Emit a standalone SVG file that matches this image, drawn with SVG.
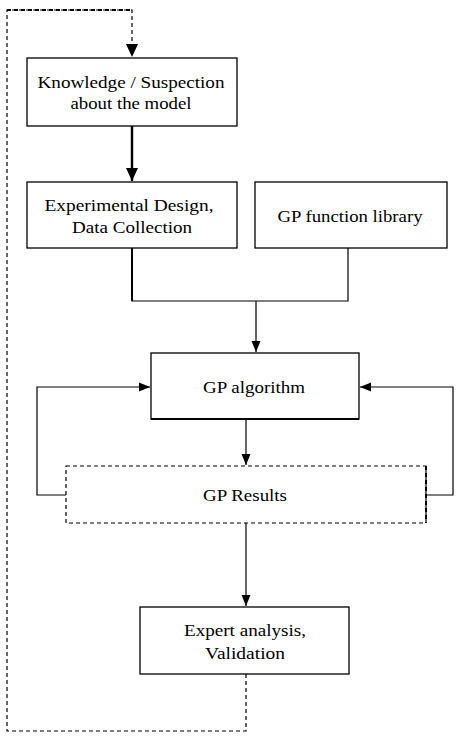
<svg xmlns="http://www.w3.org/2000/svg" width="465" height="737" viewBox="0 0 465 737">
<style>
.box{fill:#fff;stroke:#000;stroke-width:1.3}
.dbox{fill:#fff;stroke:#000;stroke-width:1.2;stroke-dasharray:4 3}
.t{font-family:"Liberation Serif","Times New Roman",serif;font-size:16px;fill:#000;text-anchor:middle}
.c{fill:none;stroke:#000;stroke-width:1.2}
.ck{fill:none;stroke:#000;stroke-width:2.4}
.cd{fill:none;stroke:#000;stroke-width:1.2;stroke-dasharray:4 3}
</style>
<defs>
<marker id="ah" markerUnits="userSpaceOnUse" markerWidth="14" markerHeight="14" viewBox="0 0 14 14" refX="13" refY="7" orient="auto">
<path d="M0,1 L13,7 L0,13 Z" fill="#000"/>
</marker>
<marker id="as" markerUnits="userSpaceOnUse" markerWidth="12" markerHeight="10" viewBox="0 0 12 10" refX="11" refY="5" orient="auto">
<path d="M0,0.5 L11,5 L0,9.5 Z" fill="#000"/>
</marker>
</defs>
<rect width="465" height="737" fill="#fff"/>
<g id="connectors">
<path class="cd" d="M246,674 V731 H7 V10 H132 V57" marker-end="url(#ah)"/>
<path d="M7,10 H132" fill="none" stroke="#000" stroke-width="2" stroke-dasharray="4 3"/>
<path class="ck" d="M132,126 V181" marker-end="url(#ah)"/>
<path class="c" d="M132,248 V301 H348 V248"/>
<path d="M132,248 V301" fill="none" stroke="#000" stroke-width="2"/>
<path class="c" d="M256,301 V352" marker-end="url(#as)"/>
<path class="c" d="M246,419 V465" marker-end="url(#as)"/>
<path class="c" d="M246,523 V606" marker-end="url(#as)"/>
<path class="c" d="M66,495 H37 V387 H150" marker-end="url(#as)"/>
<path class="c" d="M426,495 H453 V387 H360" marker-end="url(#as)"/>
</g>
<g id="knowledge">
<rect class="box" x="27" y="58" width="210" height="68"/>
<text class="t" x="131" y="88" textLength="187" lengthAdjust="spacingAndGlyphs">Knowledge / Suspection</text>
<text class="t" x="131" y="109" textLength="121" lengthAdjust="spacingAndGlyphs">about the model</text>
</g>
<g id="experimental">
<rect class="box" x="27" y="182" width="210" height="66"/>
<text class="t" x="129" y="211" textLength="169" lengthAdjust="spacingAndGlyphs">Experimental Design,</text>
<text class="t" x="132" y="233" textLength="120" lengthAdjust="spacingAndGlyphs">Data Collection</text>
</g>
<g id="library">
<rect class="box" x="255" y="182" width="192" height="66"/>
<text class="t" x="350" y="222" textLength="145" lengthAdjust="spacingAndGlyphs">GP function library</text>
</g>
<g id="algorithm">
<rect class="box" x="151" y="353" width="208" height="66"/>
<path d="M151,419 H359" stroke="#000" stroke-width="2.2"/>
<text class="t" x="254" y="393" textLength="102" lengthAdjust="spacingAndGlyphs">GP algorithm</text>
</g>
<g id="results">
<rect class="dbox" x="66" y="466" width="360" height="57"/>
<path d="M426,466 V523" fill="none" stroke="#000" stroke-width="2" stroke-dasharray="4 3"/>
<text class="t" x="245" y="501" textLength="84" lengthAdjust="spacingAndGlyphs">GP Results</text>
</g>
<g id="expert">
<rect class="box" x="140" y="607" width="209" height="67"/>
<text class="t" x="245" y="636" textLength="122" lengthAdjust="spacingAndGlyphs">Expert analysis,</text>
<text class="t" x="245" y="659" textLength="80" lengthAdjust="spacingAndGlyphs">Validation</text>
</g>
</svg>
